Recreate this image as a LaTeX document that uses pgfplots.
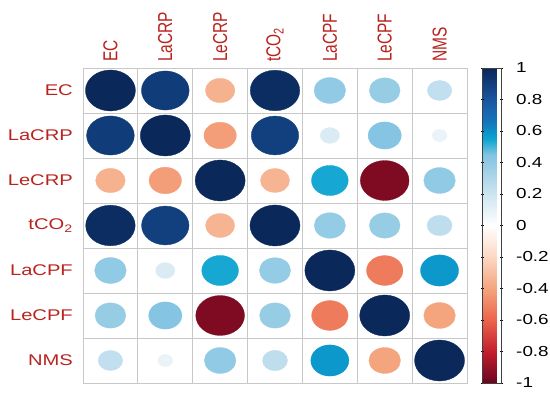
\documentclass[border=0pt]{standalone}
\usepackage{fontspec}
\setmainfont{Liberation Sans}
\usepackage{graphicx}
\usepackage{pgfplots}
\pgfplotsset{compat=1.18}
\usepackage{pgfplotstable}

\definecolor{labred}{RGB}{185,35,30}
\definecolor{gridgray}{RGB}{200,200,200}

% x = column (EC ... NMS), y = 8 - row, r = correlation
\pgfplotstableread{
x y r
1 7 1.00
2 7 0.91
3 7 -0.35
4 7 0.98
5 7 0.40
6 7 0.38
7 7 0.24
1 6 0.91
2 6 1.00
3 6 -0.42
4 6 0.90
5 6 0.15
6 6 0.44
7 6 0.09
1 5 -0.35
2 5 -0.42
3 5 1.00
4 5 -0.34
5 5 0.54
6 5 -0.95
7 5 0.40
1 4 0.98
2 4 0.90
3 4 -0.34
4 4 1.00
5 4 0.39
6 4 0.38
7 4 0.25
1 3 0.40
2 3 0.15
3 3 0.54
4 3 0.39
5 3 1.00
6 3 -0.53
7 3 0.58
1 2 0.38
2 2 0.44
3 2 -0.95
4 2 0.38
5 2 -0.53
6 2 1.00
7 2 -0.40
1 1 0.24
2 1 0.09
3 1 0.40
4 1 0.25
5 1 0.58
6 1 -0.40
7 1 1.00
}\corr

\newcommand{\hs}[1]{\scalebox{1.3}[1]{#1}}
\newcommand{\vs}[1]{\scalebox{1}[1.3]{#1}}

\begin{document}
\begin{tikzpicture}
\path[use as bounding box] (0,0) rectangle (550pt,401pt);
\begin{axis}[
  at={(83pt,18pt)}, anchor=south west,
  scale only axis, width=384pt, height=315pt,
  xmin=0.5, xmax=7.5, ymin=0.5, ymax=7.5,
  xtick={1,...,7}, ytick={1,...,7},
  xticklabels={\vs{EC},\vs{LaCRP},\vs{LeCRP},\vs{tCO\textsubscript{2}},\vs{LaCPF},\vs{LeCPF},\vs{NMS}},
  yticklabels={\hs{NMS},\hs{LeCPF},\hs{LaCPF},\hs{tCO\textsubscript{2}},\hs{LeCRP},\hs{LaCRP},\hs{EC}},
  xticklabel pos=upper,
  major tick length=0pt, minor tick length=0pt,
  minor xtick={1.5,2.5,...,6.5}, minor ytick={1.5,2.5,...,6.5},
  xminorgrids, yminorgrids,
  minor grid style={gridgray, line width=0.8pt},
  axis line style={gridgray, line width=0.8pt},
  ticklabel style={font=\fontsize{15.5}{18}\selectfont, text=labred},
  xticklabel style={rotate=90, anchor=west, inner sep=0pt},
  yticklabel style={anchor=east, inner sep=0pt},
  xticklabel shift=6pt, yticklabel shift=10pt,
  colormap={corr}{
    rgb255(0cm)=(105,5,30);
    rgb255(2cm)=(195,30,45);
    rgb255(4cm)=(235,100,75);
    rgb255(6cm)=(244,165,125);
    rgb255(8cm)=(252,215,195);
    rgb255(10cm)=(255,255,255);
    rgb255(12cm)=(205,228,240);
    rgb255(14.5cm)=(130,195,225);
    rgb255(15.5cm)=(10,165,208);
    rgb255(16.5cm)=(20,120,190);
    rgb255(18cm)=(25,85,160);
    rgb255(20cm)=(10,40,90)
  },
  point meta min=-1, point meta max=1,
  colorbar,
  colorbar style={
    at={(parent axis.north east)}, anchor=north west, xshift=7pt,
    scale only axis, width=19pt,
    ytick={-1,-0.8,-0.6,-0.4,-0.2,0,0.2,0.4,0.6,0.8,1},
    yticklabels={\hs{-1},\hs{-0.8},\hs{-0.6},\hs{-0.4},\hs{-0.2},\hs{0},\hs{0.2},\hs{0.4},\hs{0.6},\hs{0.8},\hs{1}},
    yticklabel style={font=\fontsize{14.5}{17}\selectfont, text=black, anchor=west, inner sep=0pt},
    yticklabel shift=13pt,
    major tick length=3pt, tick align=center,
    tick style={black, line width=0.6pt},
    axis line style={black!75, line width=0.8pt}
  }
]
\addplot[scatter, only marks, mark=*, point meta=\thisrow{r},
  scatter/use mapped color={draw=mapped color, fill=mapped color},
  visualization depends on={20.5*sqrt(abs(\thisrow{r})) \as \rad},
  scatter/@pre marker code/.append style={/tikz/mark size=\rad},
  mark options={xscale=1.22, line width=0.3pt}] table[x=x,y=y] {\corr};
\end{axis}
\end{tikzpicture}
\end{document}
